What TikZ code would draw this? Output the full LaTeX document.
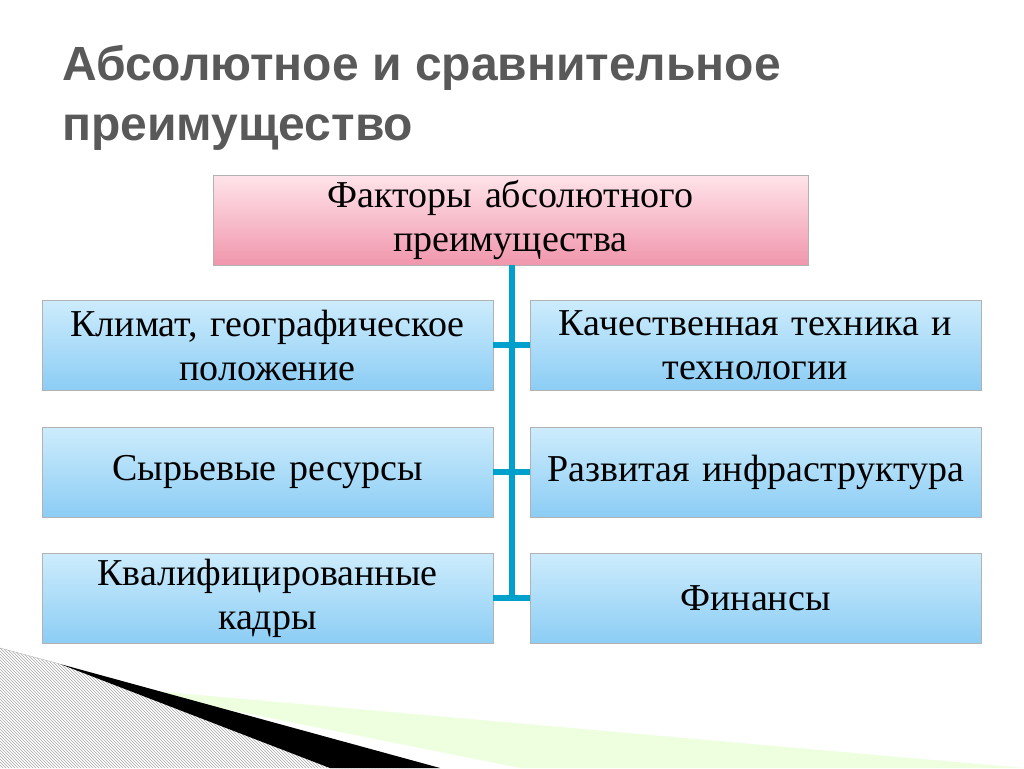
\documentclass[tikz,border=0pt]{standalone}
\usepackage{fontspec}
\setmainfont{Liberation Serif}
\newfontfamily\titlefont{Liberation Sans}
\usetikzlibrary{patterns}
\definecolor{btop}{RGB}{205,236,252}
\definecolor{bbot}{RGB}{140,205,245}
\definecolor{ptop}{RGB}{255,228,234}
\definecolor{pbot}{RGB}{240,150,172}
\begin{document}
\begin{tikzpicture}[x=1pt,y=-1pt,
  blue box/.style={draw=gray!60,line width=0.6pt,top color=btop,bottom color=bbot,minimum width=451pt,minimum height=90pt,text width=445pt,align=center,font=\fontsize{38}{44}\selectfont,inner sep=0pt},
  pink box/.style={draw=gray!60,line width=0.6pt,top color=ptop,bottom color=pbot,minimum width=595pt,minimum height=90pt,text width=580pt,align=center,font=\fontsize{38}{44}\selectfont,inner sep=0pt},
  link/.style={draw={rgb,255:red,0;green,160;blue,205},line width=6pt}]
\useasboundingbox (0,0) rectangle (1024,768);
\fill[white] (0,0) rectangle (1024,768);
% decoration
\fill[green!40!lime!12] (120,688) -- (1024,768) -- (520,768) -- cycle;
\fill[pattern=north west lines,pattern color=gray!70] (0,648) -- (440,768) -- (0,768) -- cycle;
\fill[black] (60,664) -- (440,768) -- (330,768) -- cycle;
\draw[gray!60] (0,648) -- (60,664);
% title
\node[anchor=north west,align=left,font=\titlefont\bfseries\fontsize{48}{60}\selectfont,text=black!65,inner sep=0pt] (title) at (62,45) {Абсолютное и сравнительное\\преимущество};
% boxes
\node[pink box] (top) at (510.5,220) {Факторы абсолютного\\преимущества};
\node[blue box] (l1) at (267.5,345) {Климат, географическое\\положение};
\node[blue box] (l2) at (267.5,472) {Сырьевые ресурсы};
\node[blue box] (l3) at (267.5,598) {Квалифицированные\\кадры};
\node[blue box] (r1) at (755.5,345) {Качественная техника и\\технологии};
\node[blue box] (r2) at (755.5,472) {Развитая инфраструктура};
\node[blue box] (r3) at (755.5,598) {Финансы};
\coordinate (t3) at (512,598);
\draw[link] (top.south -| t3) -- (t3);
\draw[link] (l1.east) -- (r1.west);
\draw[link] (l2.east) -- (r2.west);
\draw[link] (l3.east) -- (r3.west);
\end{tikzpicture}
\end{document}
